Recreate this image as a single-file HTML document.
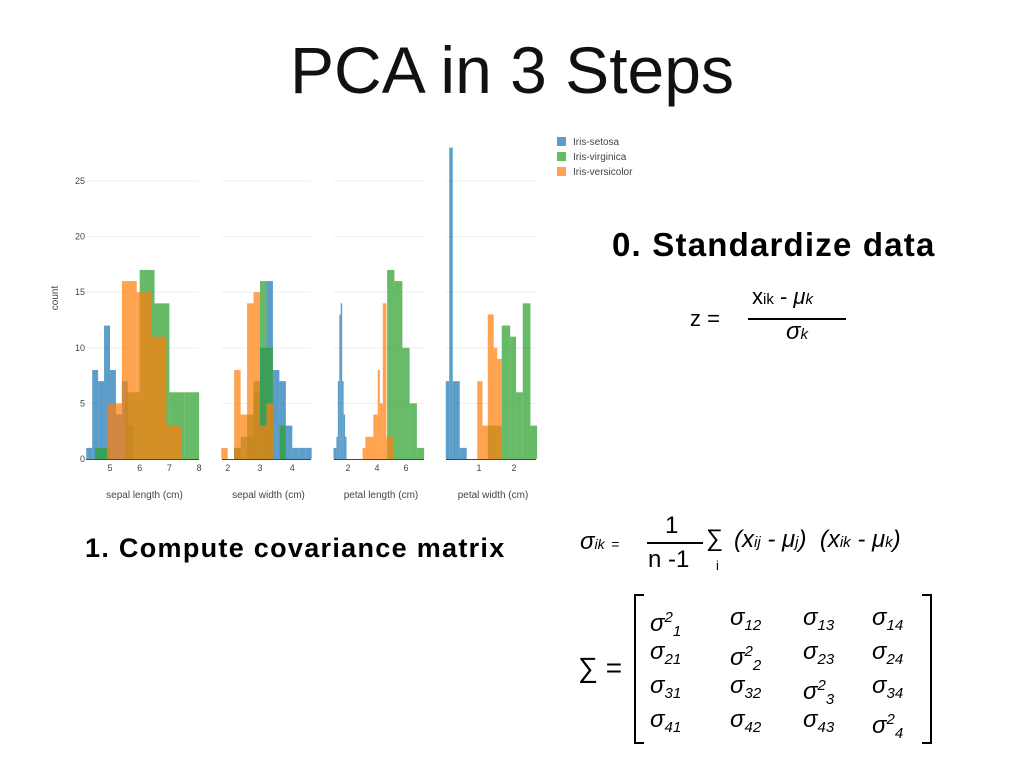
<!DOCTYPE html>
<html><head><meta charset="utf-8"><style>
body{margin:0;width:1024px;height:768px;background:#fff;overflow:hidden;font-family:"Liberation Sans",sans-serif;position:relative}
.t{position:absolute;white-space:nowrap;color:#000}
.i{font-style:italic}
</style></head><body>
<div class="t" style="left:0;width:1024px;text-align:center;top:32px;font-size:66px;color:#111">PCA in 3 Steps</div>
<svg id="chart" width="1024" height="768" style="position:absolute;left:0;top:0"></svg>
<div class="t" style="left:612px;top:226px;font-size:33px;font-weight:bold;letter-spacing:1.2px">0. Standardize data</div>
<div class="t" style="left:690px;top:306px;font-size:22px">z =</div>
<div class="t" style="left:752px;top:284px;font-size:22px">x<span style="font-size:15px">ik</span> - <i>μ<span style="font-size:15px">k</span></i></div>
<div style="position:absolute;left:748px;top:318px;width:98px;height:2px;background:#000"></div>
<div class="t i" style="left:786px;top:318px;font-size:24px">σ<span style="font-size:15px">k</span></div>
<div class="t" style="left:85px;top:533px;font-size:27px;font-weight:bold;letter-spacing:1.3px">1. Compute covariance matrix</div>
<div class="t i" style="left:580px;top:528px;font-size:24px">σ<span style="font-size:14px">ik</span> <span style="font-style:normal;font-size:14px">=</span></div>
<div class="t" style="left:665px;top:512px;font-size:24px">1</div>
<div style="position:absolute;left:647px;top:542px;width:56px;height:2px;background:#000"></div>
<div class="t" style="left:648px;top:546px;font-size:24px">n -1</div>
<div class="t" style="left:706px;top:525px;font-size:24px">∑</div>
<div class="t" style="left:716px;top:558px;font-size:13px">i</div>
<div class="t i" style="left:734px;top:526px;font-size:24px">(x<span style="font-size:15px">ij</span> - μ<span style="font-size:15px">j</span>)&nbsp; (x<span style="font-size:15px">ik</span> - μ<span style="font-size:15px">k</span>)</div>
<div class="t" style="left:578px;top:652px;font-size:28px">∑ =</div>
<div style="position:absolute;left:634px;top:594px;width:8px;height:146px;border:2px solid #000;border-right:none"></div>
<div style="position:absolute;left:922px;top:594px;width:8px;height:146px;border:2px solid #000;border-left:none"></div>
<div id="mat"></div>
<script>
// sepal length
const slBlueEdges=[4.2,4.4,4.6,4.8,5.0,5.2,5.4,5.6,5.8];
const slBlue=[1,8,7,12,8,4,7,3];
const slGreenEdges=[4.5,5.0,5.5,6.0,6.5,7.0,7.5,8.0];
const slGreen=[1,0,6,17,14,6,6];
const slOrangeEdges=[4.9,5.4,5.9,6.4,6.9,7.4];
const slOrange=[5,16,15,11,3];
// sepal width
const swBlueEdges=[2.2,2.4,2.6,2.8,3.0,3.2,3.4,3.6,3.8,4.0,4.2,4.4,4.6];
const swBlue=[1,0,2,6,10,16,8,7,3,1,1,1];
const swGreenEdges=[2.2,2.4,2.6,2.8,3.0,3.2,3.4,3.6,3.8];
const swGreen=[1,2,4,7,16,10,0,3];
const swOrangeEdges=[1.8,2.0,2.2,2.4,2.6,2.8,3.0,3.2,3.4];
const swOrange=[1,0,8,4,14,15,3,5];
// petal length
const plBlueEdges=[1.0,1.1,1.2,1.3,1.4,1.5,1.6,1.7,1.8,1.9];
const plBlue=[1,1,2,7,13,14,7,4,2];
const plGreenEdges=[4.7,5.2,5.75,6.25,6.75,7.25];
const plGreen=[17,16,10,5,1];
const plOrangeEdges=[3.0,3.2,3.75,4.05,4.2,4.4,4.65,5.15];
const plOrange=[1,2,4,8,5,14,2];
// petal width
const pwBlueEdges=[0.05,0.15,0.25,0.45,0.65];
const pwBlue=[7,28,7,1];
const pwGreenEdges=[1.25,1.65,1.89,2.06,2.25,2.47,2.66];
const pwGreen=[3,12,11,6,14,3];
const pwOrangeEdges=[0.95,1.1,1.25,1.42,1.52,1.65];
const pwOrange=[7,3,13,10,9];
const yTicks=[0,5,10,15,20,25];
const xTitles=["sepal length (cm)","sepal width (cm)","petal length (cm)","petal width (cm)"];
const xTicks=[[5,6,7,8],[2,3,4],[2,4,6],[1,2]];
const legendNames=["Iris-setosa","Iris-virginica","Iris-versicolor"];

const NS="http://www.w3.org/2000/svg",svg=document.getElementById('chart');
const colors=["#1f77b4","#2ca02c","#ff7f0e"];
function y(v){return 459-v*11.12;}
const panels=[
 {x0:86,x1:199,ref:5,rpx:110,s:29.7,series:[[slBlueEdges,slBlue],[slGreenEdges,slGreen],[slOrangeEdges,slOrange]]},
 {x0:222,x1:311,ref:3,rpx:260,s:32.3,series:[[swBlueEdges,swBlue],[swGreenEdges,swGreen],[swOrangeEdges,swOrange]]},
 {x0:334,x1:424,ref:4,rpx:377,s:14.5,series:[[plBlueEdges,plBlue],[plGreenEdges,plGreen],[plOrangeEdges,plOrange]]},
 {x0:446,x1:536,ref:1,rpx:479,s:35,series:[[pwBlueEdges,pwBlue],[pwGreenEdges,pwGreen],[pwOrangeEdges,pwOrange]]}];
function mk(tag,a,txt){const e=document.createElementNS(NS,tag);for(const k in a)e.setAttribute(k,a[k]);if(txt!==undefined)e.textContent=txt;svg.appendChild(e);return e;}
yTicks.forEach(t=>{
 const e=mk('text',{x:85,y:y(t)+3,'font-size':9,'text-anchor':'end',fill:'#444'},t);
 
 
});
const yt=mk('text',{x:58,y:298,'font-size':10,'text-anchor':'middle',fill:'#444',transform:'rotate(-90 58 298)'},'count');


panels.forEach((p,pi)=>{
 const X=v=>p.rpx+(v-p.ref)*p.s;
 yTicks.slice(1).forEach(t=>{
  const g=mk('line',{x1:p.x0,x2:p.x1,y1:y(t),y2:y(t),stroke:'#eee','stroke-width':1});
  
  
 });
 p.series.forEach((s,si)=>{
  const ed=s[0],c=s[1];
  c.forEach((v,i)=>{if(!v)return;
   const r=mk('rect',{x:X(ed[i]),y:y(v),width:X(ed[i+1])-X(ed[i]),height:y(0)-y(v),fill:colors[si],'fill-opacity':0.72});
   
   
  });
 });
 const z=mk('line',{x1:p.x0,x2:p.x1,y1:459.5,y2:459.5,stroke:'#444','stroke-width':1});
 
 
 xTicks[pi].forEach(t=>{
  const e=mk('text',{x:X(t),y:471,'font-size':9,'text-anchor':'middle',fill:'#444'},t);
  
  
 });
 const tt=mk('text',{x:(p.x0+p.x1)/2+2,y:498,'font-size':10,'text-anchor':'middle',fill:'#444'},xTitles[pi]);
 
 
});
legendNames.forEach((n,i)=>{
 const r=mk('rect',{x:557,y:137+i*15,width:9,height:9,fill:colors[i],'fill-opacity':0.72});
 
 
 const t=mk('text',{x:573,y:145+i*15,'font-size':10,fill:'#444'},n);
 
 
});
// matrix
const cells=[["σ<sup>2</sup><sub>1</sub>","σ<sub>12</sub>","σ<sub>13</sub>","σ<sub>14</sub>"],
["σ<sub>21</sub>","σ<sup>2</sup><sub>2</sub>","σ<sub>23</sub>","σ<sub>24</sub>"],
["σ<sub>31</sub>","σ<sub>32</sub>","σ<sup>2</sup><sub>3</sub>","σ<sub>34</sub>"],
["σ<sub>41</sub>","σ<sub>42</sub>","σ<sub>43</sub>","σ<sup>2</sup><sub>4</sub>"]];
const colX=[650,730,803,872],rowY=[604,638,672,706];
const mat=document.getElementById('mat');
cells.forEach((row,r)=>row.forEach((h,c)=>{
 const d=document.createElement('div');
 d.className='t i';
 d.style.cssText=`left:${colX[c]}px;top:${rowY[r]}px;font-size:24px;line-height:28px`;
 d.innerHTML=h.replace(/<sub>/g,'<sub style="font-size:15px;vertical-align:-5px">').replace(/<sup>/g,'<sup style="font-size:15px;vertical-align:9px">');
 
 
 mat.appendChild(d);
}));
</script>
</body></html>
